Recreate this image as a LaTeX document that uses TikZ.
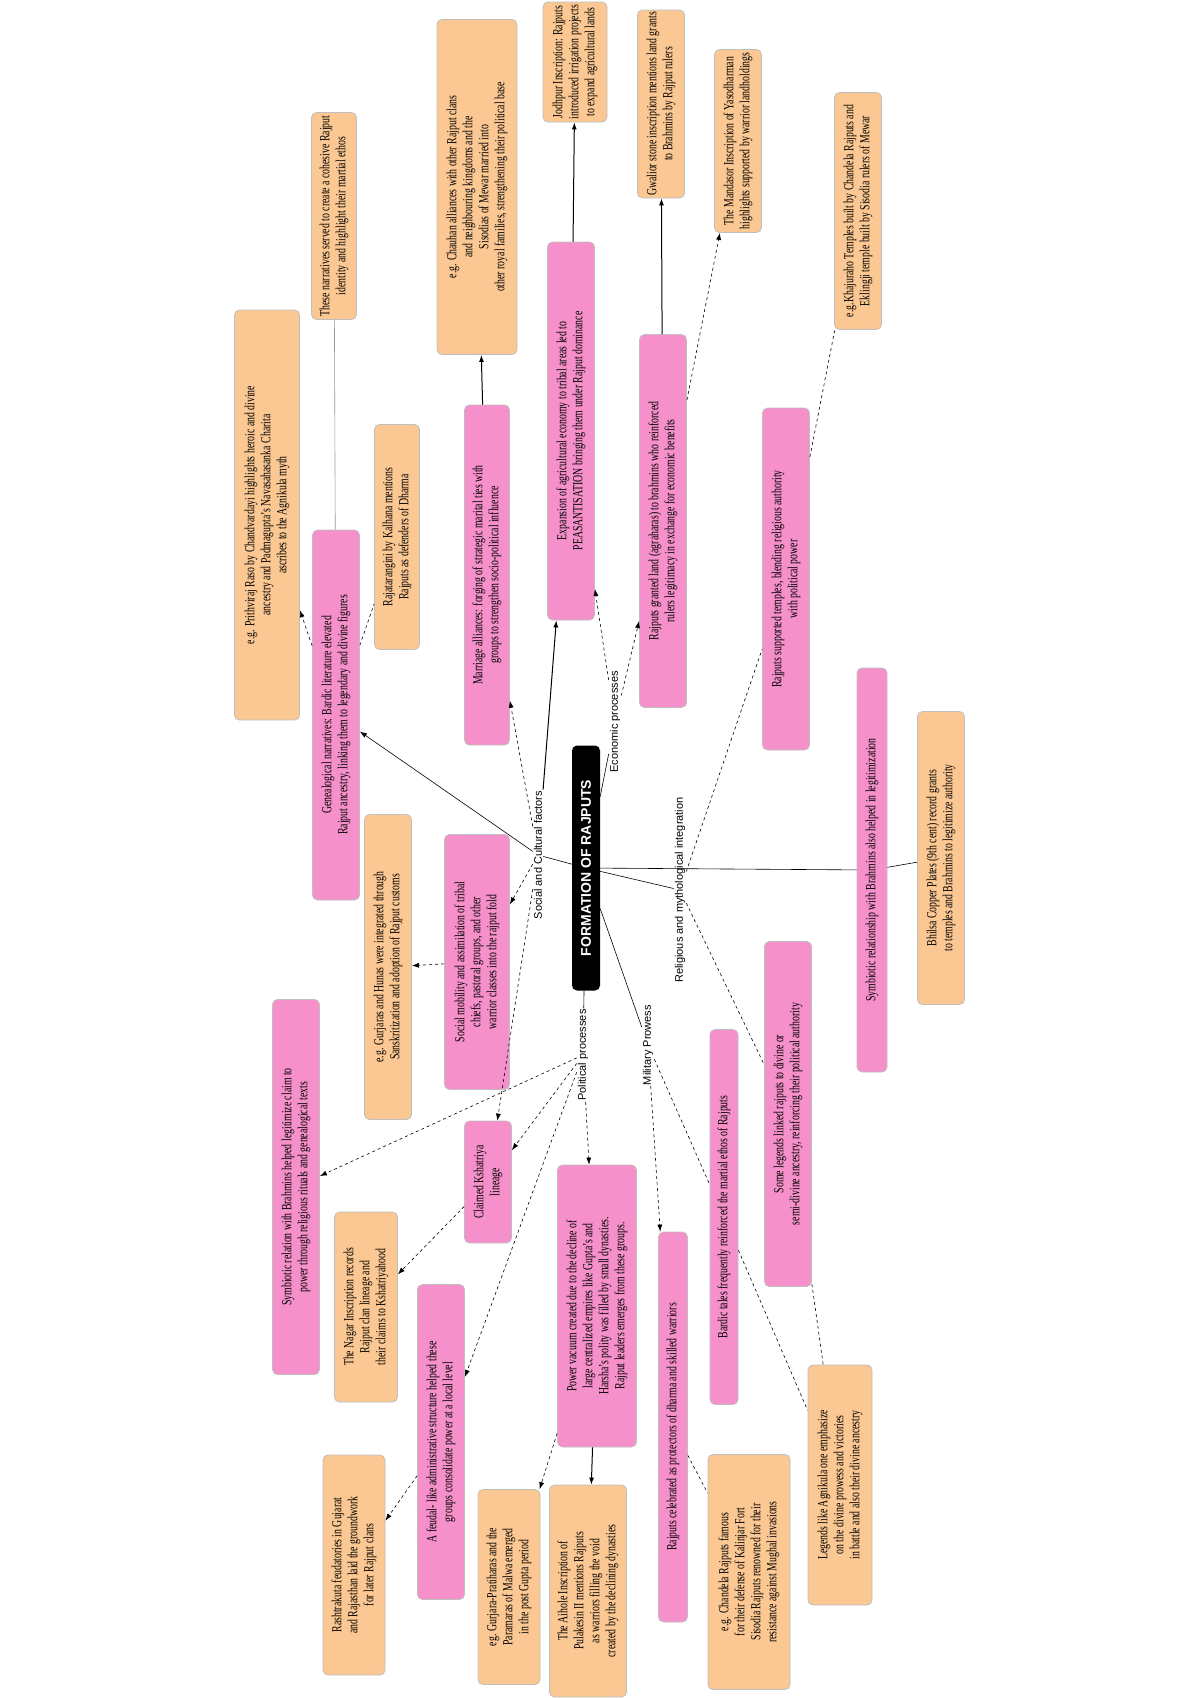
\documentclass[tikz,border=0pt]{standalone}
\usepackage{fontspec}
\setmainfont{Liberation Serif}[FakeStretch=0.7]
\setsansfont{Liberation Sans}
\usetikzlibrary{arrows.meta}
\newcommand{\bx}[7]{\node[#2, rotate=90, minimum width=#6pt, minimum height=#5pt] (#1) at (#3,#4) {#7};}
\tikzset{
 base/.style={rounded corners=5pt, draw=black!25, line width=0.8pt, align=center, inner sep=2pt, font=\fontsize{14}{16}\selectfont},
 pinkb/.style={base, fill=pinkc},
 orab/.style={base, fill=orac},
 lab/.style={rotate=90, font=\sffamily\fontsize{11}{13}\selectfont, fill=white, inner sep=1pt},
 da/.style={dashed, -{Latex[length=7pt,width=5pt]}, line width=0.6pt},
 dl/.style={dashed, line width=0.6pt},
 sa/.style={-{Latex[length=7pt,width=5pt]}, line width=1pt},
 sl/.style={line width=0.6pt}
}
\definecolor{pinkc}{HTML}{F590CB}
\definecolor{orac}{HTML}{FBC893}
\begin{document}
\begin{tikzpicture}[x=1pt,y=-1pt]
\path[use as bounding box, fill=white] (0,0) rectangle (1200,1698);
% central
\node[rotate=90, fill=black, text=white, rounded corners=5pt, minimum width=245pt, minimum height=28pt, font=\sffamily\bfseries\fontsize{14}{16}\selectfont] (c) at (586,868) {FORMATION OF RAJPUTS};
% pink
\bx{p1}{pinkb}{336}{715}{47}{370}{Genealogical narratives: Bardic literature elevated\\Rajput ancestry, linking them to legendary and divine figures}
\bx{p2}{pinkb}{487}{575}{45}{340}{Marriage alliances: forging of strategic marital ties with\\groups to strengthen socio-political influence}
\bx{p3}{pinkb}{571}{431}{47}{378}{Expansion of agricultural economy to tribal areas led to\\PEASANTISATION bringing them under Rajput dominance}
\bx{p4}{pinkb}{663}{521}{47}{373}{Rajputs granted land (agraharas) to brahmins who reinforced\\rulers legitimacy in exchange for economic benefits}
\bx{p5}{pinkb}{786}{579}{47}{342}{Rajputs supported temples, blending religious authority\\with political power}
\bx{p6}{pinkb}{872}{870}{30}{404}{Symbiotic relationship with Brahmins also helped in legitimization}
\bx{p7}{pinkb}{477}{962}{65}{255}{Social mobility and assimilation of tribal\\chiefs, pastoral groups, and other\\warrior classes into the rajput fold}
\bx{p8}{pinkb}{296}{1187}{47}{375}{Symbiotic relation with Brahmins helped legitimize claim to\\power through religious rituals and genealogical texts}
\bx{p9}{pinkb}{488}{1182}{47}{122}{Claimed Kshatriya\\lineage}
\bx{p10}{pinkb}{441}{1442}{47}{315}{A feudal- like administrative structure helped these\\groups consolidate power at a local level}
\bx{p11}{pinkb}{597}{1306}{79}{282}{Power vacuum created due to the decline of\\large centralized empires like Gupta's and\\Harsha's polity was filled by small dynasties.\\Rajput leaders emerges from these groups.}
\bx{p12}{pinkb}{673}{1427}{29}{390}{Rajputs celebrated as protectors of dharma and skilled warriors}
\bx{p13}{pinkb}{724}{1217}{28}{375}{Bardic tales frequently reinforced the martial ethos of Rajputs}
\bx{p14}{pinkb}{788}{1114}{47}{345}{Some legends linked rajputs to divine or\\semi-divine ancestry, reinforcing their political authority}
% orange
\bx{o1}{orab}{267}{515}{65}{410}{e.g. Prithviraj Raso by Chandvardayi highlights heroic and divine\\ancestry and Padmagupta's Navasahasanka Charita\\ascribes to the Agnikula myth}
\bx{o2}{orab}{334}{216}{45}{207}{These narratives served to create a cohesive Rajput\\identity and highlight their martial ethos}
\bx{o3}{orab}{397}{537}{45}{225}{Rajatarangini by Kalhana mentions\\Rajputs as defenders of Dharma}
\bx{o4}{orab}{477}{187}{80}{335}{e.g. Chauhan alliances with other Rajput clans\\and neighbouring kingdoms and the\\Sisodias of Mewar married into\\other royal families, strengthening their political base}
\bx{o5}{orab}{575}{62}{64}{120}{Jodhpur Inscription: Rajputs\\introduced irrigation projects\\to expand agricultural lands}
\bx{o6}{orab}{661}{104}{47}{188}{Gwalior stone inscription mentions land grants\\to Brahmins by Rajput rulers}
\bx{o7}{orab}{738}{141}{47}{183}{The Mandasor Inscription of Yasodharman\\highlights supported by warrior landholdings}
\bx{o8}{orab}{858}{211}{47}{237}{e.g.Khajuraho Temples built by Chandela Rajputs and\\Eklingji temple built by Sisodia rulers of Mewar}
\bx{o9}{orab}{941}{858}{47}{293}{Bhilsa Copper Plates (9th cent) record grants\\to temples and Brahmins to legitimize authority}
\bx{o10}{orab}{388}{967}{47}{305}{e.g. Gurjaras and Hunas were integrated through\\Sanskritization and adoption of Rajput customs}
\bx{o11}{orab}{366}{1307}{63}{190}{The Nagar Inscription records\\Rajput clan lineage and\\their claims to Kshatriyahood}
\bx{o12}{orab}{354}{1565}{62}{220}{Rashtrakuta feudatories in Gujarat\\and Rajasthan laid the groundwork\\for later Rajput clans}
\bx{o13}{orab}{509}{1587}{62}{195}{eg. Gurjara-Pratiharas and the\\Paramaras of Malwa emerged\\in the post Gupta period}
\bx{o14}{orab}{588}{1591}{77}{212}{The Aihole Inscription of\\Pulakesin II mentions Rajputs\\as warriors filling the void\\created by the declining dynasties}
\bx{o15}{orab}{749}{1572}{82}{235}{e.g. Chandela Rajputs famous\\for their defense of Kalinjar Fort\\Sisodia Rajputs renowned for their\\resistance against Mughal invasions}
\bx{o16}{orab}{840}{1485}{64}{240}{Legends like Agnikula one emphasize\\on the divine prowess and victories\\in battle and also their divine ancestry}
% category labels
\node[lab] (ls) at (538,855) {Social and Cultural factors};
\node[lab] (le) at (615,722) {Economic processes};
\node[lab] (lr) at (680,890) {Religious and mythological integration};
\node[lab] (lp) at (583,1055) {Political processes};
\node[lab] (lm) at (648,1045) {Military Prowess};
% central to labels
\draw[sl] (c) -- (ls);
\draw[sl] (c) -- (le);
\draw[sl] (c) -- (lr);
\draw[sl] (c) -- (lp);
\draw[sl] (c) -- (lm);
% social
\draw[sl,-{Latex[length=7pt,width=5pt]}] (ls) -- (p1);
\draw[da] (ls) -- (p2);
\draw[sa] (ls) -- (p3);
\draw[da] (ls) -- (p7);
\draw[da] (ls) -- (p9);
% economic
\draw[da] (le) -- (p3);
\draw[da] (le) -- (p4);
% religious
\draw[dl] (lr) -- (p5);
\draw[dl] (lr) -- (p14);
\draw[sl] (c) -- (p6);
% political
\draw[da] (lp) -- (p8);
\draw[da] (lp) -- (p9);
\draw[da] (lp) -- (p10);
\draw[da] (lp) -- (p11);
% military
\draw[da] (lm) -- (p12);
\draw[dl] (lm) -- (p13);
% boxes to examples
\draw[da] (p1) -- (o1);
\draw[sl,black!40] (p1) -- (o2);
\draw[dl] (p1) -- (o3);
\draw[sa] (p2) -- (o4);
\draw[sa] (p3) -- (o5);
\draw[sa] (p4) -- (o6);
\draw[da] (p4) -- (o7);
\draw[dl] (p5) -- (o8);
\draw[sl] (p6) -- (o9);
\draw[da] (p7) -- (o10);
\draw[da] (p9) -- (o11);
\draw[da] (p10) -- (o12);
\draw[da] (p11) -- (o13);
\draw[sa] (p11) -- (o14);
\draw[dl] (p12) -- (o15);
\draw[dl] (p13) -- (o16);
\draw[dl] (p14) -- (o16);
\end{tikzpicture}
\end{document}
